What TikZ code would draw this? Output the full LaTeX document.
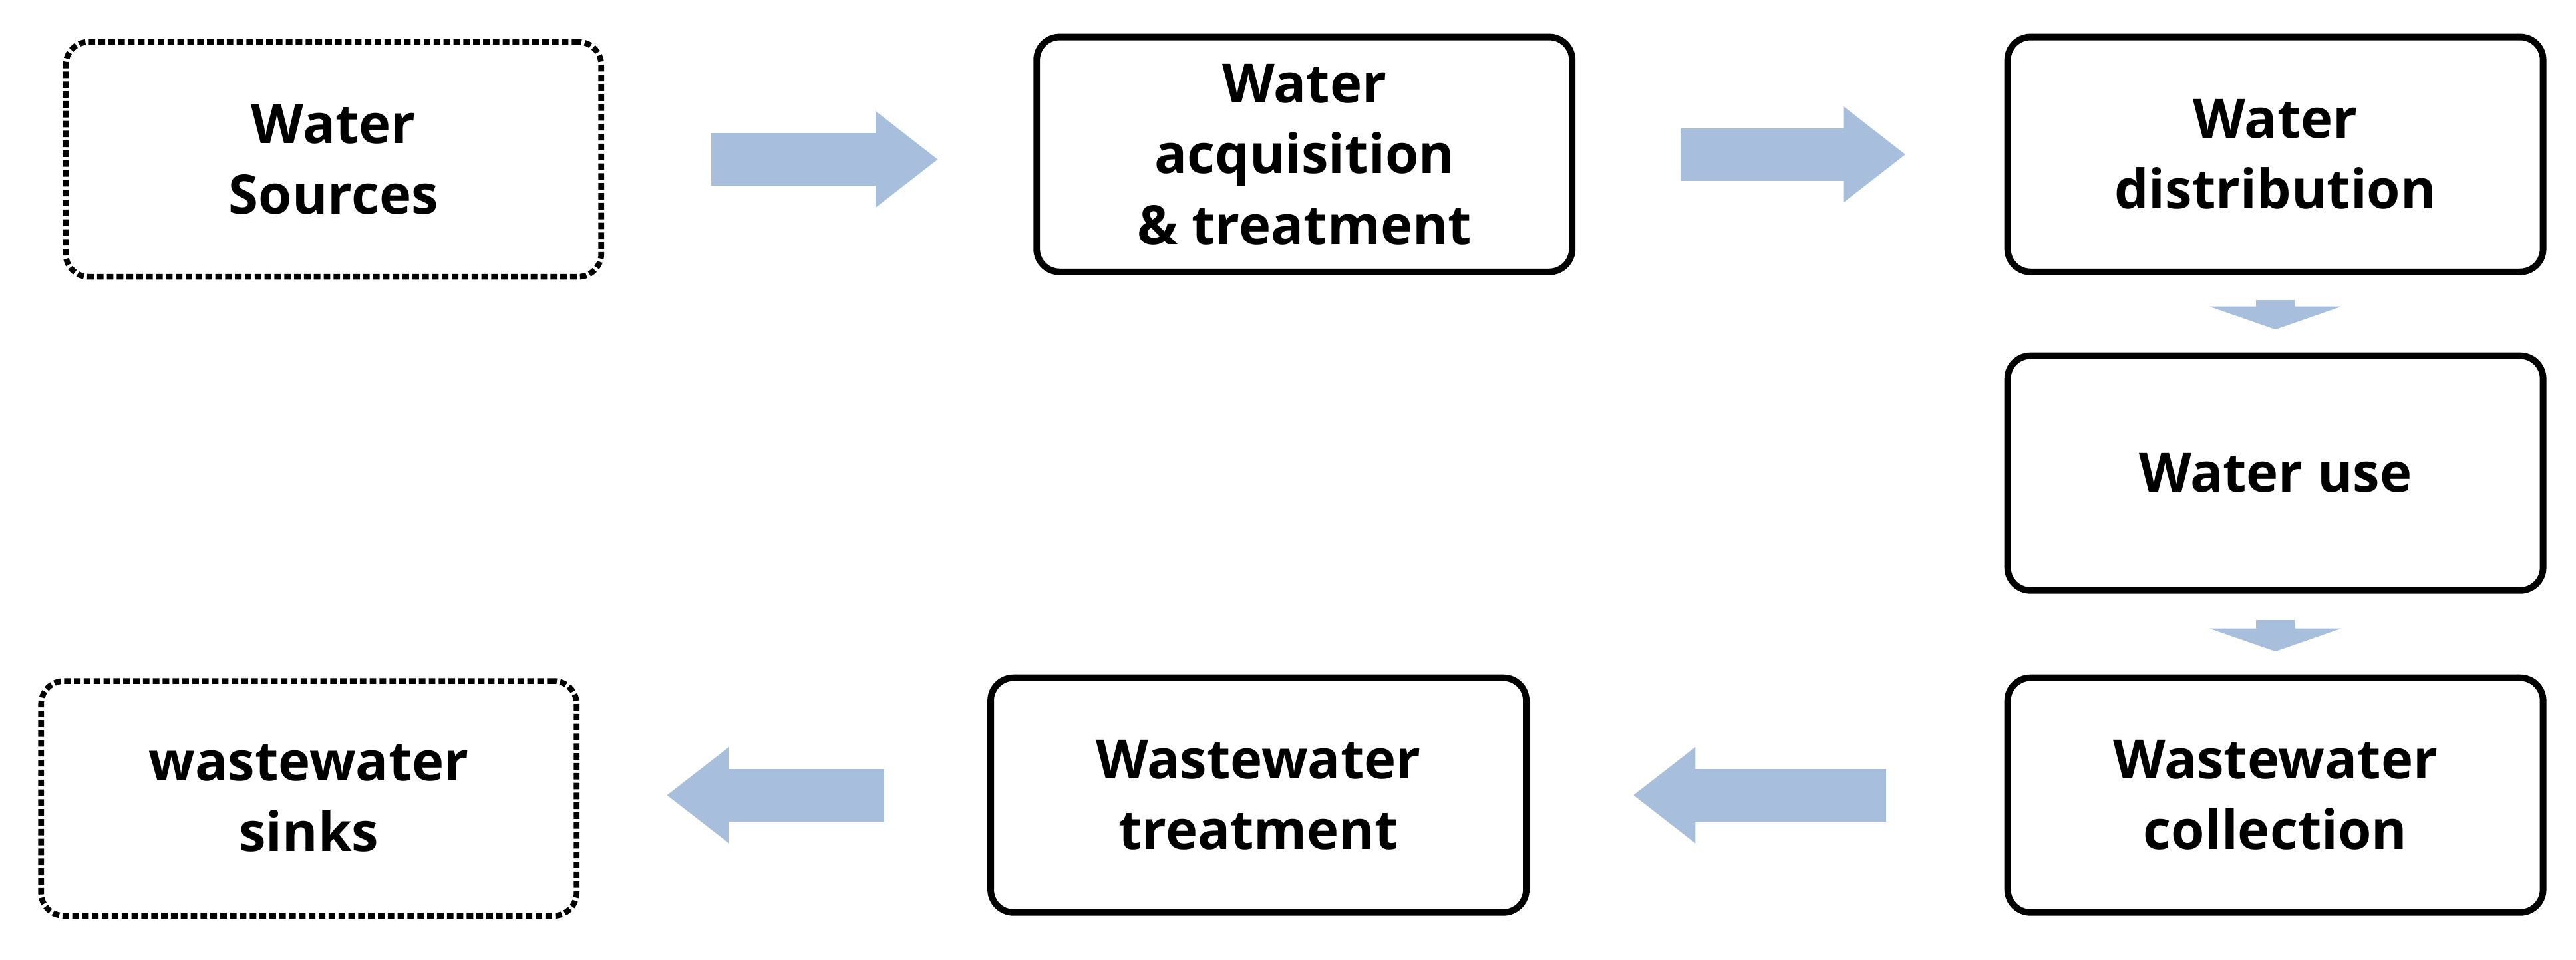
\documentclass[tikz,border=0pt]{standalone}
\usepackage{fontspec}
\setmainfont{Open Sans}
\usetikzlibrary{arrows.meta}
\definecolor{arr}{HTML}{A7BEDC}
\begin{document}
\begin{tikzpicture}[x=1pt,y=1pt,
 box/.style={draw,line width=4pt,rounded corners=14pt,minimum width=326pt,minimum height=143pt,align=center,font=\fontsize{33}{43}\selectfont\bfseries},
 dbox/.style={box,dotted,line width=3.5pt},
 flow/.style={arr,line width=32pt,-{Triangle[length=38pt,width=56pt]}}]
\useasboundingbox (0,0) rectangle (1568,-584);
\node[dbox] (src) at (203,-97) {Water\\Sources};
\node[box] (acq) at (794,-94) {Water\\acquisition\\\& treatment};
\node[box] (dist) at (1385,-94) {Water\\distribution};
\node[box] (use) at (1385,-288) {Water use};
\node[box] (col) at (1385,-484) {Wastewater\\collection};
\node[box] (trt) at (766,-484) {Wastewater\\treatment};
\node[dbox] (snk) at (188,-486) {wastewater\\sinks};
\draw[flow,shorten <=65pt,shorten >=58pt] (src.east) -- (src.east-|acq.west);
\draw[flow,shorten <=64pt,shorten >=60pt] (acq.east) -- (acq.east-|dist.west);
\draw[flow,line width=24pt,-{Triangle[length=14pt,width=80pt]},shorten <=15pt,shorten >=14pt] (dist.south) -- (use.north);
\draw[flow,line width=24pt,-{Triangle[length=14pt,width=80pt]},shorten <=16pt,shorten >=14pt] (use.south) -- (col.north);
\draw[flow,shorten <=72pt,shorten >=63pt] (col.west) -- (col.west-|trt.east);
\draw[flow,shorten <=63pt,shorten >=53pt] (trt.west) -- (trt.west-|snk.east);
\end{tikzpicture}
\end{document}
